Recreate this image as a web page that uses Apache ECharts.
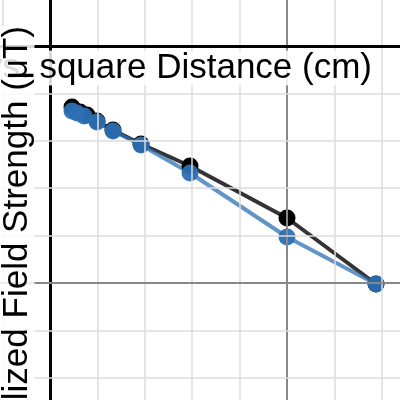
<!DOCTYPE html><html><head><meta charset="utf-8"><script src="https://cdn.jsdelivr.net/npm/echarts@6/dist/echarts.min.js"></script></head><body style="margin:0"><div id="c" style="width:400px;height:400px"></div><script>
var U=47.4;
var blackX=[72,80,87,97,113,141,190,287,376];
var blackY=[107,112,115,121,130,144,166,218,284];
var blueX=[72,77,84,97,113,141,190,287,376];
var blueY=[111,113,116,122,131,145,173,237,284];
var xTitle='Normalized Field Strength vs. square Distance (cm)';
var yTitle='Normalized Field Strength (μT)';
function cx(p){return +((p-50)/U).toFixed(3);}
function cy(p){return +(-(p-46)/U).toFixed(3);}
var black=blackX.map(function(x,i){return [cx(x),cy(blackY[i])];});
var blue=blueX.map(function(x,i){return [cx(x),cy(blueY[i])];});
var gl=[];
for(var i=-1;i<=7;i++){gl.push({xAxis:i,lineStyle:{color:i==0?'#000':(i==5?'#888':'#ddd'),width:i==0?3:(i==5?2:1.5),type:'solid'}});}
for(var j=-7;j<=0;j++){gl.push({yAxis:j,lineStyle:{color:j==0?'#000':(j==-5?'#888':'#ddd'),width:j==0?3:(j==-5?2:1.5),type:'solid'}});}
var c=echarts.init(document.getElementById('c'));
c.setOption({animation:false,
grid:{left:0,right:0,top:0,bottom:0},
xAxis:{type:'value',min:-50/U,max:350/U,show:false},
yAxis:{type:'value',min:-354/U,max:46/U,show:false},
graphic:[
{type:'text',x:372,y:68,z:100,style:{text:xTitle,font:'35px "Liberation Sans", Arial',fill:'#000',align:'right',verticalAlign:'middle',backgroundColor:'rgba(255,255,255,0.85)'}},
{type:'text',x:17,y:26,rotation:Math.PI/2,z:100,style:{text:yTitle,font:'35px "Liberation Sans", Arial',fill:'#000',align:'right',verticalAlign:'middle',backgroundColor:'rgba(255,255,255,0.85)'}}
],
series:[
{type:'line',data:[],markLine:{silent:true,symbol:'none',label:{show:false},data:gl}},
{type:'line',data:black,symbol:'circle',symbolSize:17,itemStyle:{color:'#000'},lineStyle:{color:'#333',width:4}},
{type:'line',data:blue,symbol:'circle',symbolSize:17,itemStyle:{color:'#2d70b3',opacity:0.95},lineStyle:{color:'#2d70b3',width:4,opacity:0.75}}
]});
</script></body></html>
